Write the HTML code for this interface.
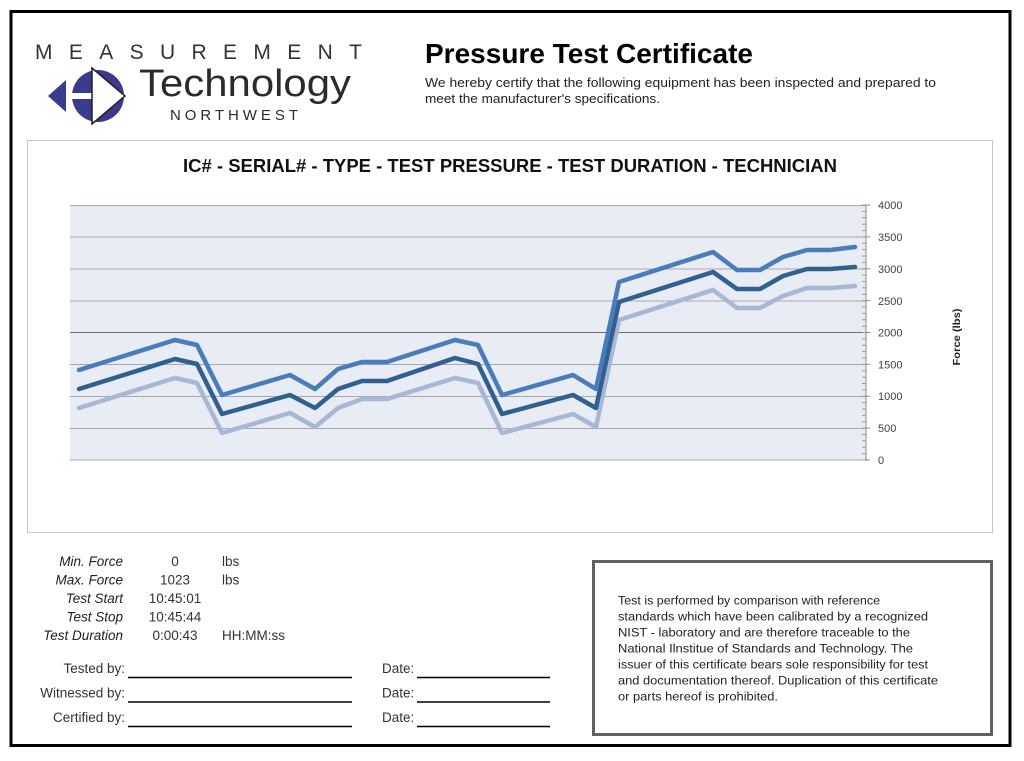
<!DOCTYPE html>
<html><head><meta charset="utf-8"><style>
html,body{margin:0;padding:0;background:#fff}
svg{display:block}
text{font-family:"Liberation Sans",Arial,sans-serif}
</style></head><body>
<svg width="1024" height="761" viewBox="0 0 1024 761" xmlns="http://www.w3.org/2000/svg">
<rect x="0" y="0" width="1024" height="761" fill="#fff"/>
<!-- outer border -->
<rect x="11" y="11.5" width="999" height="734" fill="none" stroke="#000" stroke-width="3"/>

<!-- logo -->
<text x="35" y="59" font-size="21" fill="#333" textLength="327" lengthAdjust="spacing">MEASUREMENT</text>
<polygon points="48,96 66,80 66,112" fill="#3a3b8c"/>
<circle cx="98" cy="96" r="26" fill="#3a3b8c"/>
<rect x="71" y="93" width="21" height="6" fill="#fff"/>
<polygon points="92,68 125,96 92,124" fill="#fff" stroke="#222" stroke-width="1.5" stroke-linejoin="miter"/>
<text x="139" y="96" font-size="38" fill="#2b2b2b" textLength="212" lengthAdjust="spacingAndGlyphs">Technology</text>
<text x="170" y="120" font-size="15" fill="#2b2b2b" textLength="128" lengthAdjust="spacing">NORTHWEST</text>

<!-- heading -->
<text x="425" y="63" font-size="28" font-weight="bold" fill="#000" textLength="328" lengthAdjust="spacingAndGlyphs">Pressure Test Certificate</text>
<text x="425" y="87" font-size="12.5" fill="#222" textLength="511" lengthAdjust="spacingAndGlyphs">We hereby certify that the following equipment has been inspected and prepared to</text>
<text x="425" y="103" font-size="12.5" fill="#222" textLength="235" lengthAdjust="spacingAndGlyphs">meet the manufacturer's specifications.</text>

<!-- chart box -->
<rect x="27.5" y="140.5" width="965" height="392" fill="#fff" stroke="#c4c4c4" stroke-width="1"/>
<text x="183" y="172" font-size="18.5" font-weight="bold" fill="#111" textLength="654" lengthAdjust="spacingAndGlyphs">IC# - SERIAL# - TYPE - TEST PRESSURE - TEST DURATION - TECHNICIAN</text>

<!-- plot area -->
<rect x="70" y="205" width="796" height="255" fill="#e8ecf4"/>
<g stroke="#a8a8a8" stroke-width="1">
<line x1="70" y1="205.5" x2="866" y2="205.5"/>
<line x1="70" y1="237" x2="866" y2="237"/>
<line x1="70" y1="269" x2="866" y2="269"/>
<line x1="70" y1="301" x2="866" y2="301"/>
<line x1="70" y1="364.5" x2="866" y2="364.5"/>
<line x1="70" y1="396.5" x2="866" y2="396.5"/>
<line x1="70" y1="428.5" x2="866" y2="428.5"/>
<line x1="70" y1="460" x2="866" y2="460"/>
</g>
<line x1="70" y1="332.5" x2="866" y2="332.5" stroke="#707070" stroke-width="1"/>

<!-- right axis -->
<line x1="866" y1="205" x2="866" y2="461" stroke="#8c8c8c" stroke-width="1"/>
<line x1="864" y1="204.5" x2="864" y2="461" stroke="#9a9a9a" stroke-width="4" stroke-dasharray="1 5.375"/>
<line x1="868" y1="204.5" x2="868" y2="461" stroke="#8c8c8c" stroke-width="4" stroke-dasharray="1 30.875"/>
<g font-size="11" fill="#404040">
<text x="878" y="209">4000</text>
<text x="878" y="241">3500</text>
<text x="878" y="273">3000</text>
<text x="878" y="305">2500</text>
<text x="878" y="336.5">2000</text>
<text x="878" y="368.5">1500</text>
<text x="878" y="400">1000</text>
<text x="878" y="432">500</text>
<text x="878" y="464">0</text>
</g>
<text transform="translate(960,337) rotate(-90)" text-anchor="middle" font-size="10.5" font-weight="bold" fill="#222" textLength="57" lengthAdjust="spacingAndGlyphs">Force (lbs)</text>

<!-- series -->
<g fill="none" stroke-width="4.5" stroke-linejoin="round" stroke-linecap="round">
<polyline stroke="#a7b7d5" points="79,408 175,378 197,383 222,433 290,413 315,427 338,408 362,399 387,399 455,378 478,383 502,433 573,414 596,427 619,320 713,290 737,308 760,308 783,296 807,288 830,288 855,286"/>
<polyline stroke="#31608f" points="79,389 175,359 197,364 222,414 290,395 315,408 338,389 362,381 387,381 455,358 478,364 502,414 573,395 596,408 619,302 713,272 737,289 760,289 783,276 807,269 830,269 855,267"/>
<polyline stroke="#4a7cbb" points="79,370 175,340 197,345 222,395 290,375 315,389 338,369 362,362 387,362 455,340 478,345 502,395 573,375 596,389 619,282 713,252 737,270 760,270 783,257 807,250 830,250 855,247"/>
</g>

<!-- test data -->
<g font-size="13.5" font-style="italic" fill="#222" text-anchor="end">
<text x="123" y="566">Min. Force</text>
<text x="123" y="584.5">Max. Force</text>
<text x="123" y="603">Test Start</text>
<text x="123" y="621.5">Test Stop</text>
<text x="123" y="640">Test Duration</text>
</g>
<g font-size="13.5" fill="#333" text-anchor="middle">
<text x="175" y="566">0</text>
<text x="175" y="584.5">1023</text>
<text x="175" y="603">10:45:01</text>
<text x="175" y="621.5">10:45:44</text>
<text x="175" y="640">0:00:43</text>
</g>
<g font-size="13.5" fill="#333">
<text x="222" y="566">lbs</text>
<text x="222" y="584.5">lbs</text>
<text x="222" y="640">HH:MM:ss</text>
</g>

<!-- signatures -->
<g font-size="13.5" fill="#333">
<text x="125" y="673" text-anchor="end">Tested by:</text>
<text x="125" y="697.5" text-anchor="end">Witnessed by:</text>
<text x="125" y="722" text-anchor="end">Certified by:</text>
<text x="382" y="673">Date:</text>
<text x="382" y="697.5">Date:</text>
<text x="382" y="722">Date:</text>
</g>
<g stroke="#000" stroke-width="1.5">
<line x1="128" y1="677.5" x2="352" y2="677.5"/>
<line x1="128" y1="702" x2="352" y2="702"/>
<line x1="128" y1="726.5" x2="352" y2="726.5"/>
<line x1="417" y1="677.5" x2="550" y2="677.5"/>
<line x1="417" y1="702" x2="550" y2="702"/>
<line x1="417" y1="726.5" x2="550" y2="726.5"/>
</g>

<!-- disclaimer box -->
<rect x="593.5" y="561.5" width="398" height="173" fill="#fff" stroke="#616161" stroke-width="3"/>
<g font-size="12.4" fill="#222">
<text x="618" y="604.3" textLength="262" lengthAdjust="spacingAndGlyphs">Test is performed by comparison with reference</text>
<text x="618" y="620.3" textLength="310" lengthAdjust="spacingAndGlyphs">standards which have been calibrated by a recognized</text>
<text x="618" y="636.3" textLength="292" lengthAdjust="spacingAndGlyphs">NIST - laboratory and are therefore traceable to the</text>
<text x="618" y="652.3" textLength="295" lengthAdjust="spacingAndGlyphs">National Ilnstitue of Standards and Technology. The</text>
<text x="618" y="668.3" textLength="310" lengthAdjust="spacingAndGlyphs">issuer of this certificate bears sole responsibility for test</text>
<text x="618" y="684.3" textLength="320" lengthAdjust="spacingAndGlyphs">and documentation thereof. Duplication of this certificate</text>
<text x="618" y="700.3" textLength="160" lengthAdjust="spacingAndGlyphs">or parts hereof is prohibited.</text>
</g>
</svg>
</body></html>
